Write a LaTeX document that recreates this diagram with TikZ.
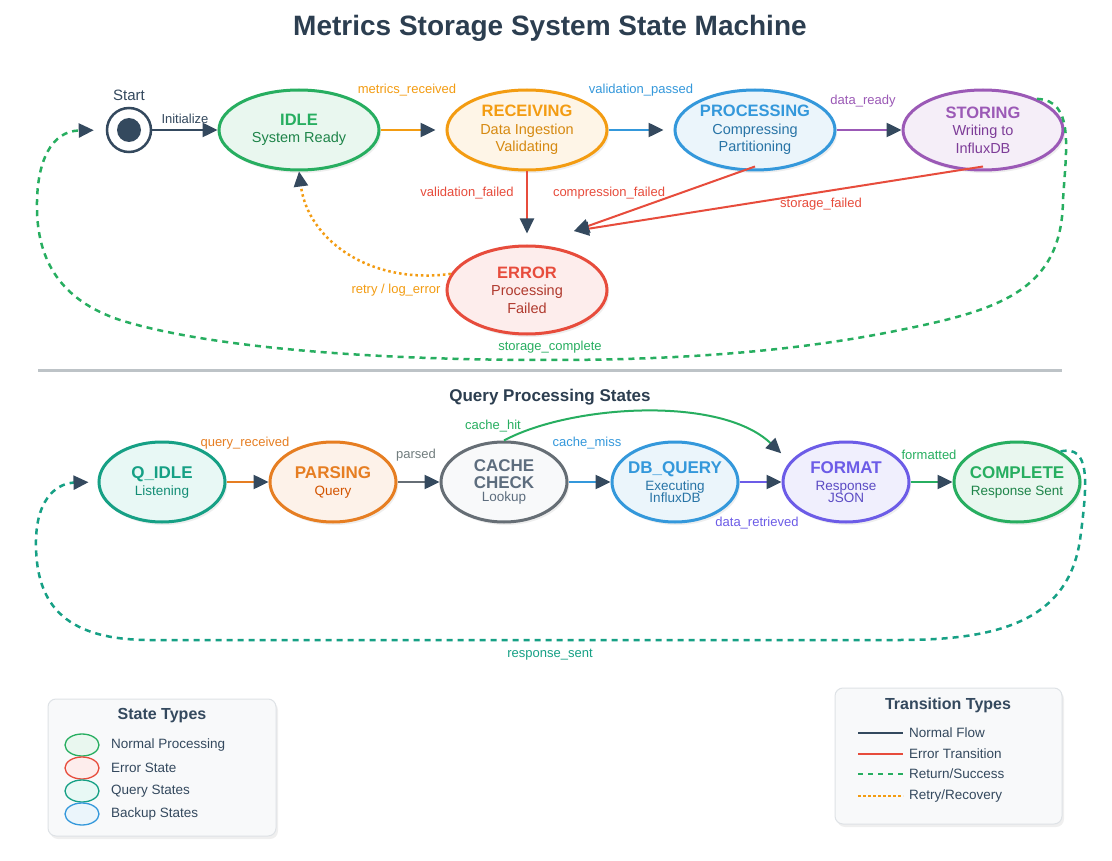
\documentclass[tikz,border=0pt]{standalone}
\usepackage{fontspec}
\setmainfont{Liberation Sans}
\usetikzlibrary{arrows.meta,shapes.geometric,shadows,calc}
\definecolor{dark}{HTML}{2C3E50}
\definecolor{arrowc}{HTML}{34495E}
\definecolor{cgreen}{HTML}{27AE60}
\definecolor{cgreenf}{HTML}{E9F7EF}
\definecolor{cgreent}{HTML}{1E8449}
\definecolor{corange}{HTML}{F39C12}
\definecolor{corangef}{HTML}{FEF5E7}
\definecolor{coranget}{HTML}{D68910}
\definecolor{cblue}{HTML}{3498DB}
\definecolor{cbluef}{HTML}{EBF5FB}
\definecolor{cbluet}{HTML}{2874A6}
\definecolor{cpurple}{HTML}{9B59B6}
\definecolor{cpurplef}{HTML}{F5EEF8}
\definecolor{cpurplet}{HTML}{7D3C98}
\definecolor{cred}{HTML}{E74C3C}
\definecolor{credf}{HTML}{FDEDEC}
\definecolor{credt}{HTML}{B03A2E}
\definecolor{cteal}{HTML}{16A085}
\definecolor{ctealf}{HTML}{E8F8F5}
\definecolor{ctealt}{HTML}{138D75}
\definecolor{cor}{HTML}{E67E22}
\definecolor{corf}{HTML}{FDF2E9}
\definecolor{cort}{HTML}{D35400}
\definecolor{cgray}{HTML}{666E75}
\definecolor{cgrayf}{HTML}{F8F9FA}
\definecolor{cgrayt}{HTML}{5D6D7E}
\definecolor{cgrayl}{HTML}{717D7E}
\definecolor{cindigo}{HTML}{6C5CE7}
\definecolor{cindigof}{HTML}{F0EFFD}
\definecolor{cindigot}{HTML}{5B4BC4}
\definecolor{sepc}{HTML}{BDC3C7}
\definecolor{legf}{HTML}{F8F9FA}
\definecolor{legd}{HTML}{DEE2E6}
\newcommand\ttlA{\bfseries\fontsize{16.5}{18}\selectfont}
\newcommand\ttlB{\bfseries\fontsize{17}{18}\selectfont}
\tikzset{
  state/.style={ellipse, line width=3pt, align=center, inner xsep=-30pt, inner ysep=-5pt,
    minimum width=160pt, minimum height=80pt,
    font=\fontsize{14.5}{17.5}\selectfont,
    drop shadow={opacity=0.13, shadow xshift=2pt, shadow yshift=-3pt}},
  qstate/.style={state, minimum width=126pt, minimum height=80pt,
    font=\fontsize{13.5}{17}\selectfont},
  arr/.style={line width=2.5pt, -{Triangle[length=15pt,width=14pt,color=arrowc]}},
  lbl/.style={font=\fontsize{13}{15}\selectfont, inner sep=0pt},
  legtxt/.style={font=\fontsize{13.5}{16}\selectfont, text=arrowc, anchor=west, inner sep=0pt},
  legttl/.style={font=\bfseries\fontsize{16}{18}\selectfont, text=arrowc, inner sep=0pt},
  legbox/.style={fill=legf, draw=legd, line width=1pt, rounded corners=8pt,
    drop shadow={opacity=0.12, shadow xshift=2pt, shadow yshift=-3pt}},
  legell/.style={ellipse, line width=1.3pt, minimum width=34pt, minimum height=22pt, inner sep=0pt},
  retdash/.style={line width=2.5pt, dash pattern=on 6pt off 5pt},
  retrydot/.style={line width=2.5pt, dash pattern=on 2.5pt off 3pt},
}
\begin{document}
\begin{tikzpicture}[x=1pt,y=-1pt]
\useasboundingbox (0,0) rectangle (1112,861);
\fill[white] (0,0) rectangle (1112,861);

% title
\node[font=\bfseries\fontsize{28}{32}\selectfont, text=dark] (title) at (550,28) {Metrics Storage System State Machine};

% start
\node[circle, draw=arrowc, line width=2.5pt, fill=white, minimum size=44pt, inner sep=0pt] (start) at (129,130) {};
\fill[arrowc] (start.center) circle (12);
\node[font=\fontsize{15}{17}\selectfont, text=arrowc] (startlbl) at (129,95) {Start};

% top states
\node[state, draw=cgreen, fill=cgreenf, text=cgreent] (idle) at (299,130)
  {\textcolor{cgreen}{\ttlA IDLE}\\System Ready};
\node[state, draw=corange, fill=corangef, text=coranget] (recv) at (527,130)
  {\textcolor{corange}{\ttlA RECEIVING}\\Data Ingestion\\Validating};
\node[state, draw=cblue, fill=cbluef, text=cbluet] (proc) at (755,130)
  {\textcolor{cblue}{\ttlA PROCESSING}\\Compressing\\Partitioning};
\node[state, draw=cpurple, fill=cpurplef, text=cpurplet] (stor) at (983,130)
  {\textcolor{cpurple}{\ttlA STORING}\\Writing to\\InfluxDB};
\node[state, draw=cred, fill=credf, text=credt, minimum height=88pt] (err) at (527,290)
  {\textcolor{cred}{\ttlA ERROR}\\Processing\\Failed};

% top transitions
\draw[arr, draw=arrowc] (start) -- (idle);
\draw[arr, draw=corange, shorten >=10pt] (idle) -- (recv);
\draw[arr, draw=cblue, shorten >=10pt] (recv) -- (proc);
\draw[arr, draw=cpurple] (proc) -- (stor);
\draw[arr, draw=cred, line width=2pt, shorten >=11pt] (recv) -- (err);
\coordinate (errtip) at (574,231);
\draw[arr, draw=cred, line width=2pt] ($(proc.south)+(0,-5)$) -- (errtip);
\draw[arr, draw=cred, line width=2pt] ($(stor.south)+(0,-5)$) -- (errtip);
\draw[retrydot, draw=corange, -{Triangle[length=15pt,width=14pt,color=arrowc]}]
  (err.168) .. controls (370,285) and (308,240) .. (idle.south);
\draw[retdash, draw=cgreen, -{Triangle[length=15pt,width=14pt,color=arrowc]}, shorten >=12pt]
  (stor.30) .. controls (1075,100) and (1066,150) .. (1063,200)
  .. controls (1062,290) and (1000,310) .. (900,330)
  .. controls (780,355) and (650,360) .. (550,360)
  .. controls (350,360) and (200,345) .. (120,320)
  .. controls (60,300) and (38,260) .. (37,210)
  .. controls (36,160) and (52,131) .. (start.west);

% top labels
\node[lbl, text=arrowc] (linit) at (185,119) {Initialize};
\node[lbl, text=corange] (lmr) at (407,90) {metrics\_received};
\node[lbl, text=cblue] (lvp) at (641,90) {validation\_passed};
\node[lbl, text=cpurple] (ldr) at (863,101) {data\_ready};
\node[lbl, text=cred] (lvf) at (467,193) {validation\_failed};
\node[lbl, text=cred] (lcf) at (609,193) {compression\_failed};
\node[lbl, text=cred] (lsf) at (821,204) {storage\_failed};
\node[lbl, text=corange] (lre) at (396,290) {retry / log\_error};
\node[lbl, text=cgreen] (lsc) at (550,347) {storage\_complete};

% separator
\draw[line width=3pt, draw=sepc] (38,370) -- (1062,370);
\node[font=\bfseries\fontsize{17}{19}\selectfont, text=dark] (qtitle) at (550,397) {Query Processing States};

% bottom states
\node[qstate, draw=cteal, fill=ctealf, text=ctealt] (qidle) at (162,482)
  {\textcolor{cteal}{\ttlB Q\_IDLE}\\Listening};
\node[qstate, draw=cor, fill=corf, text=cort] (pars) at (333,482)
  {\textcolor{cor}{\ttlB PARSING}\\Query};
\node[qstate, draw=cgray, fill=cgrayf, text=cgrayt] (cache) at (504,482)
  {\textcolor{cgrayt}{\ttlB CACHE}\\\textcolor{cgrayt}{\ttlB CHECK}\\[-4pt]Lookup};
\node[qstate, draw=cblue, fill=cbluef, text=cbluet] (dbq) at (675,482)
  {\textcolor{cblue}{\ttlB DB\_QUERY}\\Executing\\[-5pt]InfluxDB};
\node[qstate, draw=cindigo, fill=cindigof, text=cindigot] (fmt) at (846,482)
  {\textcolor{cindigo}{\ttlB FORMAT}\\Response\\[-5pt]JSON};
\node[qstate, draw=cgreen, fill=cgreenf, text=cgreent] (comp) at (1017,482)
  {\textcolor{cgreen}{\ttlB COMPLETE}\\Response Sent};

% bottom transitions
\draw[arr, draw=cor] (qidle) -- (pars);
\draw[arr, draw=cgray] (pars) -- (cache);
\draw[arr, draw=cblue] (cache) -- (dbq);
\draw[arr, draw=cindigo] (dbq) -- (fmt);
\draw[arr, draw=cgreen] (fmt) -- (comp);
\draw[arr, draw=cgreen, line width=2pt, shorten >=12pt]
  (cache.north) .. controls (570,405) and (720,395) .. (fmt.160);
\draw[retdash, draw=cteal, -{Triangle[length=15pt,width=14pt,color=arrowc]}, shorten >=9pt]
  (comp.35) .. controls (1090,445) and (1088,480) .. (1080,540)
  .. controls (1068,620) and (1000,640) .. (900,640)
  -- (150,640)
  .. controls (60,640) and (35,600) .. (36,540)
  .. controls (37,495) and (60,483) .. (qidle.west);

% bottom labels
\node[lbl, text=cor] (lqr) at (245,443) {query\_received};
\node[lbl, text=cgrayl] (lpa) at (416,455) {parsed};
\node[lbl, text=cgreen] (lch) at (493,426) {cache\_hit};
\node[lbl, text=cblue] (lcm) at (587,443) {cache\_miss};
\node[lbl, text=cindigo] (ldre) at (757,523) {data\_retrieved};
\node[lbl, text=cgreen] (lfo) at (929,455) {formatted};
\node[lbl, text=cteal] (lrs) at (550,655) {response\_sent};

% legend: state types
\path[legbox] (48,699) rectangle (276,836);
\node[legttl] (lg1) at (162,716) {State Types};
\node[legell, draw=cgreen, fill=cgreenf] (le1) at (82,745) {};
\node[legell, draw=cred, fill=credf] (le2) at (82,768) {};
\node[legell, draw=cteal, fill=ctealf] (le3) at (82,791) {};
\node[legell, draw=cblue, fill=cbluef] (le4) at (82,814) {};
\node[legtxt] (lt1) at (111,745) {Normal Processing};
\node[legtxt] (lt2) at (111,768) {Error State};
\node[legtxt] (lt3) at (111,791) {Query States};
\node[legtxt] (lt4) at (111,814) {Backup States};

% legend: transition types
\path[legbox] (835,688) rectangle (1062,824);
\node[legttl] (lg2) at (948,705) {Transition Types};
\draw[line width=2.5pt, draw=arrowc] (858,733) -- (903,733);
\draw[line width=2.5pt, draw=cred] (858,754) -- (903,754);
\draw[line width=2.5pt, draw=cgreen, dash pattern=on 5pt off 5pt] (858,774) -- (903,774);
\draw[line width=2.5pt, draw=corange, dash pattern=on 2.5pt off 2.5pt] (858,796) -- (903,796);
\node[legtxt] (tt1) at (909,733) {Normal Flow};
\node[legtxt] (tt2) at (909,754) {Error Transition};
\node[legtxt] (tt3) at (909,774) {Return/Success};
\node[legtxt] (tt4) at (909,796) {Retry/Recovery};
\end{tikzpicture}
\end{document}
